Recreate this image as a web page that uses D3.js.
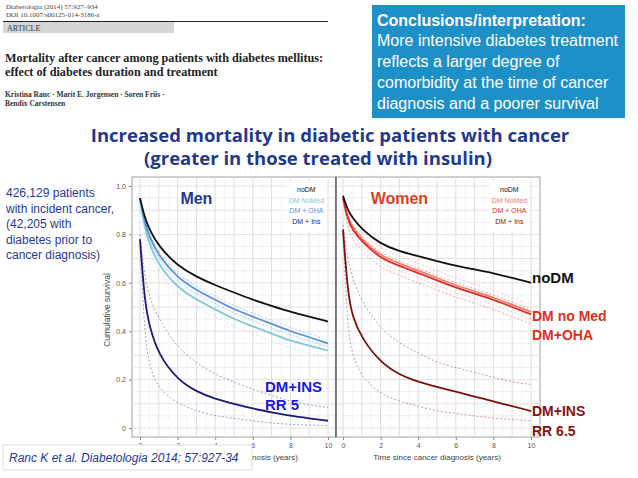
<!DOCTYPE html>
<html><head><meta charset="utf-8">
<script src="https://cdn.jsdelivr.net/npm/d3@7"></script>
<style>body{margin:0;background:#fff}svg{display:block}</style>
</head><body>
<svg id="c" width="638" height="478"></svg>
<script>
// time points (years)
const years = [0, 0.25, 0.5, 1, 2, 3, 4, 5, 6, 7, 8, 9, 10];
// men
const menNoDM   = [0.95, 0.87, 0.82, 0.75, 0.67, 0.625, 0.59, 0.56, 0.53, 0.505, 0.48, 0.46, 0.44];
const menOHA    = [0.95, 0.85, 0.79, 0.71, 0.62, 0.57, 0.53, 0.49, 0.46, 0.43, 0.40, 0.375, 0.35];
const menNoMed  = [0.94, 0.83, 0.76, 0.67, 0.58, 0.53, 0.49, 0.45, 0.42, 0.39, 0.36, 0.34, 0.32];
const menIns    = [0.78, 0.52, 0.42, 0.30, 0.20, 0.15, 0.12, 0.10, 0.08, 0.065, 0.05, 0.04, 0.03];
const menInsHi  = [0.80, 0.62, 0.54, 0.45, 0.33, 0.27, 0.22, 0.19, 0.16, 0.135, 0.11, 0.095, 0.085];
const menInsLo  = [0.76, 0.38, 0.25, 0.16, 0.10, 0.07, 0.05, 0.04, 0.03, 0.02, 0.015, 0.012, 0.01];
// women
const womNoDM   = [0.96, 0.90, 0.87, 0.82, 0.76, 0.73, 0.71, 0.69, 0.67, 0.655, 0.64, 0.62, 0.60];
const womNoMed  = [0.95, 0.87, 0.83, 0.78, 0.71, 0.68, 0.65, 0.62, 0.59, 0.565, 0.54, 0.51, 0.48];
const womOHA    = [0.95, 0.86, 0.82, 0.77, 0.70, 0.67, 0.64, 0.61, 0.58, 0.555, 0.53, 0.50, 0.47];
const womIns    = [0.82, 0.56, 0.46, 0.37, 0.27, 0.22, 0.19, 0.17, 0.15, 0.13, 0.11, 0.09, 0.07];
const womInsHi  = [0.84, 0.70, 0.62, 0.52, 0.41, 0.35, 0.31, 0.27, 0.25, 0.23, 0.21, 0.19, 0.18];
const womInsLo  = [0.80, 0.40, 0.30, 0.21, 0.14, 0.11, 0.09, 0.07, 0.06, 0.05, 0.04, 0.035, 0.03];
const xTicks = [0, 2, 4, 6, 8, 10];
const yTicks = [0, 0.2, 0.4, 0.6, 0.8, 1.0];
const legendLabels = ["noDM", "DM NoMed", "DM + OHA", "DM + Ins"];

const svg = d3.select("#c");
const F = "Liberation Sans, Arial, sans-serif";

// paper header
svg.append("text").attr("x",6).attr("y",9).attr("font-family","Liberation Serif").attr("font-size",7).attr("fill","#444").text("Diabetologia (2014) 57:927–934");
svg.append("text").attr("x",6).attr("y",17).attr("font-family","Liberation Serif").attr("font-size",7).attr("fill","#444").text("DOI 10.1007/s00125-014-3186-z");
svg.append("rect").attr("x",3).attr("y",22).attr("width",171).attr("height",11).attr("fill","#d6d6d6");
svg.append("line").attr("x1",3).attr("x2",328).attr("y1",21.5).attr("y2",21.5).attr("stroke","#222");
svg.append("text").attr("x",7).attr("y",31).attr("font-family","Liberation Serif").attr("font-size",8).attr("fill","#333").text("ARTICLE");
svg.append("text").attr("x",5).attr("y",62).attr("font-family","Liberation Serif").attr("font-weight","bold").attr("font-size",12.2).attr("fill","#222").text("Mortality after cancer among patients with diabetes mellitus:");
svg.append("text").attr("x",5).attr("y",76).attr("font-family","Liberation Serif").attr("font-weight","bold").attr("font-size",12.2).attr("fill","#222").text("effect of diabetes duration and treatment");
svg.append("text").attr("x",5).attr("y",97).attr("font-family","Liberation Serif").attr("font-weight","bold").attr("font-size",7.5).attr("fill","#333").text("Kristina Ranc · Marit E. Jorgensen · Soren Friis ·");
svg.append("text").attr("x",5).attr("y",106).attr("font-family","Liberation Serif").attr("font-weight","bold").attr("font-size",7.5).attr("fill","#333").text("Bendix Carstensen");

// conclusion box
svg.append("rect").attr("x",372).attr("y",5).attr("width",253).attr("height",113).attr("fill","#1e90c8");
const concl = ["More intensive diabetes treatment","reflects a larger degree of","comorbidity at the time of cancer","diagnosis and a poorer survival"];
svg.append("text").attr("x",377).attr("y",26).attr("font-family",F).attr("font-weight","bold").attr("font-size",16).attr("fill","#fff").text("Conclusions/interpretation:");
concl.forEach((t,i)=>svg.append("text").attr("x",377).attr("y",46+i*21).attr("font-family",F).attr("font-size",16).attr("fill","#fff").text(t));

// title
svg.append("text").attr("x",330).attr("y",142).attr("text-anchor","middle").attr("font-family","Open Sans").attr("font-weight","bold").attr("font-size",18.5).attr("fill","#1f3a8a").text("Increased mortality in diabetic patients with cancer");
svg.append("text").attr("x",318).attr("y",165).attr("text-anchor","middle").attr("font-family","Open Sans").attr("font-weight","bold").attr("font-size",18.5).attr("fill","#1f3a8a").text("(greater in those treated with insulin)");

// left note
["426,129 patients","with incident cancer,","(42,205 with","diabetes prior to","cancer diagnosis)"].forEach((t,i)=>
  svg.append("text").attr("x",6).attr("y",197+i*15.5).attr("font-family",F).attr("font-size",12).attr("fill","#1f3a9a").text(t));

const y = d3.scaleLinear().domain([0,1]).range([428,186]);
function panel(x0, x1, frameL, frameR, series, colors, title, titleColor) {
  const x = d3.scaleLinear().domain([0,10]).range([x0,x1]);
  const g = svg.append("g");
  g.append("rect").attr("x",frameL).attr("y",177).attr("width",frameR-frameL).attr("height",260).attr("fill","#fff").attr("stroke","#888").attr("stroke-width",0.8);
  d3.range(0,10.01,0.5).forEach(v=>g.append("line").attr("x1",x(v)).attr("x2",x(v)).attr("y1",177).attr("y2",437).attr("stroke",v%1?"#eee":"#ddd").attr("stroke-width",v%1?0.6:1));
  d3.range(0,1.001,0.05).forEach(v=>g.append("line").attr("x1",frameL).attr("x2",frameR).attr("y1",y(v)).attr("y2",y(v)).attr("stroke","#e2e2e2").attr("stroke-width",Math.round(v*100)%10?0.6:1));
  g.append("g").attr("transform","translate(0,437)").call(d3.axisBottom(x).tickValues(xTicks).tickSize(3))
    .call(a=>{a.select(".domain").remove();a.selectAll("line").attr("stroke","#888");a.selectAll("text").attr("fill","#555").attr("font-size",7);});
  const line = d3.line().x((d,i)=>x(years[i])).y(d=>y(d)).curve(d3.curveBasis);
  series.forEach(s=>{
    g.append("path").attr("d",line(s.v)).attr("fill","none").attr("stroke",colors[s.c])
      .attr("stroke-width",s.dash?0.7:1.8).attr("stroke-dasharray",s.dash?"2,2":null).attr("opacity",s.dash?0.6:1);
  });
  g.append("text").attr("x",x(3)).attr("y",204).attr("text-anchor","middle").attr("font-family",F).attr("font-weight","bold").attr("font-size",16).attr("fill",titleColor).text(title);
  g.append("rect").attr("x",x(7.8)).attr("y",181).attr("width",x(9.9)-x(7.8)).attr("height",50).attr("fill","#fff");
  legendLabels.forEach((t,i)=>g.append("text").attr("x",x(8.85)).attr("y",192+i*10.5).attr("text-anchor","middle").attr("font-family",F).attr("font-size",7).attr("fill",colors[i]).text(t));
  return x;
}
function withCI(v,d){return v.map((a,i)=>i===0?a:a+d);}
const menCol = ["#111","#7fc8d8","#5b8fdc","#1a1a7a"];
const xm = panel(140,328,132,336,[
  {v:withCI(menOHA,-0.015),c:2,dash:1},{v:withCI(menOHA,0.015),c:2,dash:1},
  {v:withCI(menNoMed,-0.03),c:1,dash:1},{v:withCI(menNoMed,0.02),c:1,dash:1},
  {v:menInsHi,c:3,dash:1},{v:menInsLo,c:3,dash:1},
  {v:menNoMed,c:1},{v:menOHA,c:2},{v:menNoDM,c:0},{v:menIns,c:3}
], menCol, "Men", "#1f3a8a");
const womCol = ["#111","#f08070","#e02b20","#7a1010"];
const xw = panel(343,531,336,540,[
  {v:withCI(womNoMed,0.03),c:1,dash:1},{v:withCI(womNoMed,-0.03),c:1,dash:1},
  {v:withCI(womOHA,0.02),c:2,dash:1},{v:withCI(womOHA,-0.04),c:2,dash:1},
  {v:womInsHi,c:3,dash:1},{v:womInsLo,c:3,dash:1},
  {v:womNoMed,c:1},{v:womOHA,c:2},{v:womNoDM,c:0},{v:womIns,c:3}
], womCol, "Women", "#e0401c");
svg.append("line").attr("x1",336).attr("x2",336).attr("y1",177).attr("y2",437).attr("stroke","#333");

// y axis
svg.append("g").attr("transform","translate(132,0)").call(d3.axisLeft(y).tickValues(yTicks).tickSize(3).tickFormat(d=>d===0?"0":d3.format(".1f")(d)))
  .call(a=>{a.select(".domain").remove();a.selectAll("line").attr("stroke","#888");a.selectAll("text").attr("fill","#555").attr("font-size",7);});
svg.append("text").attr("transform","translate(110,310) rotate(-90)").attr("text-anchor","middle").attr("font-family",F).attr("font-size",8.5).attr("fill","#444").text("Cumulative survival");
svg.append("text").attr("x",xw(5)).attr("y",460).attr("text-anchor","middle").attr("font-family",F).attr("font-size",8).attr("fill","#444").text("Time since cancer diagnosis (years)");
svg.append("text").attr("x",xm(5)).attr("y",460).attr("text-anchor","middle").attr("font-family",F).attr("font-size",8).attr("fill","#444").text("Time since cancer diagnosis (years)");

// annotations
const ann = (t,xx,yy,c,s)=>svg.append("text").attr("x",xx).attr("y",yy).attr("font-family",F).attr("font-weight","bold").attr("font-size",s).attr("fill",c).text(t);
ann("DM+INS",265,392,"#1a1adb",15); ann("RR 5",265,410,"#1a1adb",15);
ann("noDM",532,283,"#111",15);
ann("DM no Med",532,321,"#e0301c",14); ann("DM+OHA",532,340,"#e0301c",14);
ann("DM+INS",532,416,"#8a1010",14); ann("RR 6.5",532,436,"#8a1010",14);

// citation
svg.append("rect").attr("x",3).attr("y",445).attr("width",249).attr("height",25).attr("fill","#fff").attr("stroke","#ddd");
svg.append("text").attr("x",9).attr("y",462).attr("font-family",F).attr("font-style","italic").attr("font-size",12).attr("fill","#1f3a9a").text("Ranc K et al. Diabetologia 2014; 57:927-34");
</script>
</body></html>
